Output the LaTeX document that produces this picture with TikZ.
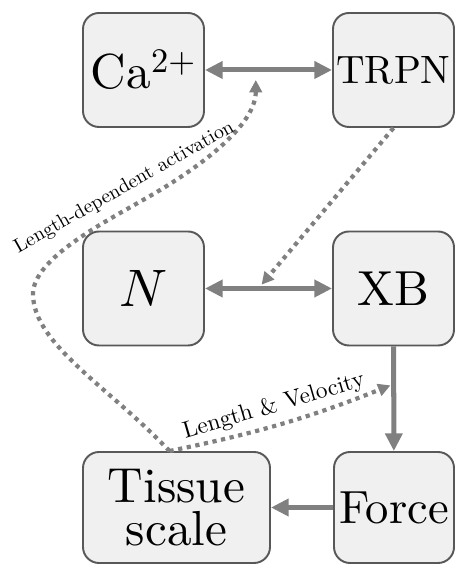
\documentclass[tikz,border=0pt]{standalone}
\usepackage{tikz}
\usetikzlibrary{calc,arrows.meta}
\DeclareFontShape{TU}{lmr}{m}{n}{<->"[lmroman10-regular]:+tlig;"}{}
\DeclareFontShape{OT1}{cmr}{m}{n}{<->cmr10}{}
\DeclareFontShape{OML}{cmm}{m}{it}{<->cmmi10}{}
\definecolor{boxfill}{HTML}{F0F0F0}
\definecolor{boxline}{HTML}{585858}
\definecolor{arrowgray}{HTML}{808080}
\tikzset{
	box/.style={draw=boxline, fill=boxfill, line width=1.1pt, rounded corners=0.32cm, minimum width=2.42cm, minimum height=2.28cm, inner sep=0pt, align=center, font=\fontsize{28}{24.5}\selectfont},
	flux/.style={draw=arrowgray, line width=2.85pt},
	feedback/.style={draw=arrowgray, line width=2.4pt, dash pattern=on 2.4pt off 2.6pt, -{Triangle[length=7pt,width=7pt]}},
	smalllabel/.style={text=black, inner sep=1pt}
}

\begin{document}
\begin{tikzpicture}[>={Triangle[length=10pt,width=9.5pt]}]
				\useasboundingbox (0,0) rectangle (9.48,11.58);
				
				\node[box] (ca) at (2.87,10.18) {Ca$^{2+}$};
				\node[box] (trpn) at (7.87,10.18) {\fontsize{22.5}{24}\selectfont TRPN};
				\node[box] (n) at (2.87,5.81) {\fontsize{30}{30}\selectfont $N$};
				\node[box] (xb) at (7.87,5.81) {XB};
				\node[box, minimum width=3.74cm, minimum height=2.22cm] (tissue) at (3.53,1.43) {Tissue\\scale};
				\node[box, minimum width=2.4cm, minimum height=2.22cm] (force) at (7.88,1.43) {\fontsize{26.5}{26}\selectfont Force};
				
				\coordinate (src) at ($(tissue.north)+(-0.14,0)$);
				\coordinate (lda) at ($(ca.east)!0.4!(trpn.west)$);
				\coordinate (cat) at ($(n.east)!0.42!(xb.west)$);
				\coordinate (lv) at ($(xb.south)!0.36!(force.north)$);
				
				\draw[flux, <->] (ca) -- (trpn);
				\draw[flux, <->] (n) -- (xb);
				\draw[flux, ->] (xb) -- (force);
				\draw[flux, ->] (force) -- (tissue);
				
				\draw[feedback, shorten >=0.1cm] (trpn.south) -- (cat);
				\draw[feedback, shorten >=0.07cm] (src) to[bend right=5] node[smalllabel, pos=0.48, sloped, above=2.5pt, font=\fontsize{13.3}{15}\selectfont] {Length \& Velocity} (lv);
				\draw[feedback, shorten >=0.2cm] (src) .. controls (2.2,3.82) and (0.66,4.7) .. (0.66,5.7) .. controls (0.66,6.4) and (2.06,7.12) .. (2.86,7.58) node[smalllabel, pos=0.93, sloped, above=4pt, font=\fontsize{11.3}{13}\selectfont] {Length-dependent activation} .. controls (3.7,8.05) and ($(lda)+(0,-1.2)$) .. (lda);
			\end{tikzpicture}
\end{document}
